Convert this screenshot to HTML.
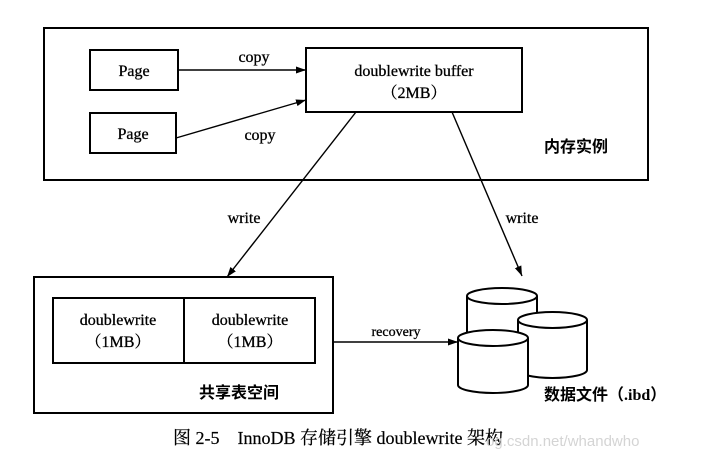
<!DOCTYPE html>
<html><head><meta charset="utf-8"><style>
html,body{margin:0;padding:0;background:#fff;}
svg{display:block;}
text{font-family:"Liberation Serif","Noto Serif CJK SC",serif;fill:#000;}
.cjk{font-family:"Liberation Serif","Noto Sans CJK SC",sans-serif;font-weight:bold;}
</style></head><body>
<svg width="705" height="458" viewBox="0 0 705 458" xmlns="http://www.w3.org/2000/svg">
<defs>
<marker id="a" viewBox="0 0 10 10" refX="10" refY="5" markerWidth="10" markerHeight="10" orient="auto" markerUnits="userSpaceOnUse">
<path d="M0,1.5 L10,5 L0,8.5 Z" fill="#000"/></marker>
</defs>
<g fill="none" stroke="#000" stroke-width="2">
<rect x="44" y="28" width="604" height="152"/>
<rect x="90" y="50" width="88" height="40"/>
<rect x="90" y="113" width="86" height="40"/>
<rect x="306" y="48" width="216" height="64"/>
<rect x="34" y="277" width="299" height="136"/>
<rect x="53" y="298" width="262" height="65"/>
<line x1="184" y1="298" x2="184" y2="363"/>
</g>
<g stroke="#000" stroke-width="1.4" fill="none">
<line x1="178" y1="70" x2="306" y2="70" marker-end="url(#a)"/>
<line x1="176" y1="138" x2="306" y2="100" marker-end="url(#a)"/>
<line x1="356" y1="112" x2="227" y2="277" marker-end="url(#a)"/>
<line x1="452" y1="112" x2="522" y2="276" marker-end="url(#a)"/>
<line x1="333" y1="342" x2="458" y2="342" marker-end="url(#a)"/>
</g>
<g stroke="#000" stroke-width="2" fill="#fff">
<path d="M467,296 L467,350 L537,350 L537,296"/>
<ellipse cx="502" cy="296" rx="35" ry="8"/>
<path d="M518,320 L518,370 A34.5,8 0 0 0 587,370 L587,320"/>
<ellipse cx="552.5" cy="320" rx="34.5" ry="8"/>
<path d="M458,338 L458,385 A35,8 0 0 0 528,385 L528,338"/>
<ellipse cx="493" cy="338" rx="35" ry="8"/>
</g>
<g font-size="16" stroke="#000" stroke-width="0.3">
<text x="134" y="76" text-anchor="middle">Page</text>
<text x="133" y="139" text-anchor="middle">Page</text>
<text x="254" y="62" text-anchor="middle">copy</text>
<text x="260" y="140" text-anchor="middle">copy</text>
<text x="414" y="76" text-anchor="middle">doublewrite buffer</text>
<text x="414" y="98" text-anchor="middle">（2MB）</text>
<text x="244" y="223" text-anchor="middle">write</text>
<text x="522" y="223" text-anchor="middle">write</text>
<text x="118" y="325" text-anchor="middle">doublewrite</text>
<text x="118" y="347" text-anchor="middle">（1MB）</text>
<text x="250" y="325" text-anchor="middle">doublewrite</text>
<text x="250" y="347" text-anchor="middle">（1MB）</text>
<text x="396" y="336" text-anchor="middle" font-size="14">recovery</text>
</g>
<text x="544" y="152" class="cjk" font-size="16">内存实例</text>
<text x="199" y="398" class="cjk" font-size="16">共享表空间</text>
<text x="544" y="400" class="cjk" font-size="16">数据文件（.ibd）</text>
<text x="173" y="444" font-size="18" stroke="#000" stroke-width="0.2">图 2-5　InnoDB 存储引擎 doublewrite 架构</text>
<text x="486" y="446" font-size="15" style="fill:#d4d4d4;font-family:'Liberation Sans',sans-serif">og.csdn.net/whandwho</text>
</svg>
</body></html>
